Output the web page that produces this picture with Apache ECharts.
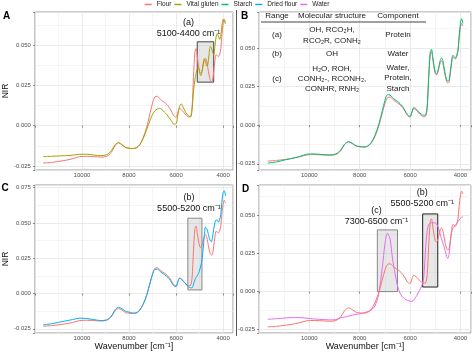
<!DOCTYPE html>
<html><head><meta charset="utf-8">
<script src="https://cdn.jsdelivr.net/npm/echarts@6/dist/echarts.min.js"></script>
<style>html,body{margin:0;padding:0;background:#fff}#c{width:474px;height:352px}</style>
</head><body><div id="c"></div>
<script>
// ---- data ----
const wavenumber = [11650, 11300, 11000, 10700, 10400, 10100, 9800, 9500, 9200, 8950,
  8750, 8600, 8450, 8300, 8150, 8000, 7850, 7700, 7550, 7400,
  7250, 7100, 7000, 6900, 6800, 6700, 6600, 6500, 6400, 6300,
  6200, 6100, 6000, 5920, 5850, 5780, 5700, 5620, 5540, 5460,
  5380, 5320, 5260, 5200, 5150, 5100, 5050, 5000, 4950, 4900,
  4850, 4800, 4750, 4700, 4650, 4600, 4550, 4500, 4450, 4400,
  4350, 4300, 4250, 4200, 4150, 4100, 4050, 4000, 3950, 3900];

const flour = [-0.0232, -0.0228, -0.0222, -0.0215, -0.0205, -0.0192, -0.0190, -0.0192, -0.0195, -0.0190,
  -0.0165, -0.0125, -0.0107, -0.0118, -0.0135, -0.0140, -0.0142, -0.0138, -0.0118, -0.0075,
  -0.0010, 0.0080, 0.0140, 0.0178, 0.0182, 0.0170, 0.0155, 0.0145, 0.0132, 0.0115,
  0.0090, 0.0062, 0.0052, 0.0085, 0.0108, 0.0100, 0.0088, 0.0072, 0.0062, 0.0055,
  0.0058, 0.0110, 0.0300, 0.0455, 0.0478, 0.0430, 0.0375, 0.0335, 0.0325, 0.0340,
  0.0372, 0.0405, 0.0418, 0.0402, 0.0360, 0.0315, 0.0285, 0.0272, 0.0280, 0.0335,
  0.0400, 0.0440, 0.0435, 0.0428, 0.0442, 0.0475, 0.0565, 0.0632, 0.0660, 0.0642];

const vitalGluten = [-0.0192, -0.0190, -0.0188, -0.0186, -0.0183, -0.0178, -0.0177, -0.0182, -0.0186, -0.0180,
  -0.0155, -0.0120, -0.0105, -0.0118, -0.0135, -0.0140, -0.0142, -0.0138, -0.0120, -0.0080,
  -0.0025, 0.0035, 0.0070, 0.0092, 0.0103, 0.0108, 0.0100, 0.0085, 0.0070, 0.0050,
  0.0030, 0.0010, 0.0012, 0.0070, 0.0120, 0.0135, 0.0115, 0.0090, 0.0072, 0.0060,
  0.0055, 0.0100, 0.0210, 0.0285, 0.0325, 0.0355, 0.0360, 0.0330, 0.0310, 0.0330,
  0.0385, 0.0415, 0.0400, 0.0370, 0.0380, 0.0440, 0.0490, 0.0485, 0.0455, 0.0440,
  0.0490, 0.0550, 0.0570, 0.0555, 0.0535, 0.0555, 0.0620, 0.0660, 0.0650, 0.0630];

const starch = [-0.0245, -0.0238, -0.0226, -0.0215, -0.0203, -0.0188, -0.0186, -0.0190, -0.0192, -0.0186,
  -0.0160, -0.0122, -0.0108, -0.0116, -0.0133, -0.0138, -0.0140, -0.0136, -0.0114, -0.0068,
  0.0002, 0.0095, 0.0160, 0.0197, 0.0195, 0.0180, 0.0165, 0.0155, 0.0140, 0.0122,
  0.0095, 0.0068, 0.0056, 0.0090, 0.0115, 0.0108, 0.0095, 0.0080, 0.0070, 0.0064,
  0.0068, 0.0125, 0.0320, 0.0470, 0.0492, 0.0445, 0.0385, 0.0345, 0.0333, 0.0348,
  0.0385, 0.0420, 0.0435, 0.0420, 0.0375, 0.0330, 0.0298, 0.0285, 0.0295, 0.0350,
  0.0415, 0.0452, 0.0445, 0.0435, 0.0452, 0.0485, 0.0580, 0.0660, 0.0690, 0.0660];

const driedFlour = [-0.0222, -0.0215, -0.0205, -0.0195, -0.0185, -0.0175, -0.0178, -0.0185, -0.0192, -0.0187,
  -0.0160, -0.0118, -0.0098, -0.0108, -0.0125, -0.0132, -0.0138, -0.0138, -0.0120, -0.0078,
  -0.0015, 0.0075, 0.0135, 0.0170, 0.0172, 0.0160, 0.0145, 0.0135, 0.0122, 0.0105,
  0.0080, 0.0055, 0.0048, 0.0085, 0.0108, 0.0105, 0.0090, 0.0075, 0.0058, 0.0045,
  0.0040, 0.0040, 0.0065, 0.0095, 0.0115, 0.0125, 0.0140, 0.0165, 0.0195, 0.0240,
  0.0310, 0.0410, 0.0470, 0.0460, 0.0435, 0.0400, 0.0375, 0.0365, 0.0400, 0.0455,
  0.0500, 0.0520, 0.0520, 0.0505, 0.0520, 0.0560, 0.0650, 0.0715, 0.0728, 0.0690];

const water = [-0.0182, -0.0178, -0.0174, -0.0171, -0.0171, -0.0175, -0.0180, -0.0183, -0.0186, -0.0184,
  -0.0172, -0.0167, -0.0162, -0.0155, -0.0150, -0.0146, -0.0140, -0.0132, -0.0122, -0.0095,
  -0.0020, 0.0160, 0.0310, 0.0383, 0.0350, 0.0220, 0.0120, 0.0040, -0.0010, -0.0035,
  -0.0050, -0.0058, -0.0063, -0.0064, -0.0055, -0.0038, -0.0015, 0.0010, 0.0035, 0.0090,
  0.0290, 0.0400, 0.0440, 0.0450, 0.0452, 0.0452, 0.0452, 0.0450, 0.0445, 0.0430,
  0.0405, 0.0375, 0.0345, 0.0320, 0.0295, 0.0265, 0.0232, 0.0218, 0.0245, 0.0330,
  0.0390, 0.0415, 0.0425, 0.0440, 0.0446, 0.0460, 0.0470, 0.0480, 0.0490, 0.0488];

const xTickLabels = [10000, 8000, 6000, 4000];
const yTickLabels = [-0.025, 0, 0.025, 0.05, 0.075];
const legendNames = ['Flour', 'Vital gluten', 'Starch', 'Dried flour', 'Water'];

// annotation boxes: [wavenumber from, wavenumber to, NIR low, NIR high]
const boxA = [5100, 4400, 0.027, 0.052];
const boxC = [5500, 4900, 0.0025, 0.0533];
const boxDb = [5500, 4900, 0.003, 0.051];
const boxDc = [7300, 6500, 0.0, 0.0405];
const boxTextA = '(a)\n5100-4400 cm\u207B\u00B9';
const boxTextB = '(b)\n5500-5200 cm\u207B\u00B9';
const boxTextC = '(c)\n7300-6500 cm\u207B\u00B9';

// ---- chart ----
const FONT = "'Liberation Sans', Arial, sans-serif";
const COLORS = {'Flour': '#F8766D', 'Vital gluten': '#A3A500', 'Starch': '#00BF7D', 'Dried flour': '#00B0F6', 'Water': '#E76BF3'};
const DATA = {'Flour': flour, 'Vital gluten': vitalGluten, 'Starch': starch, 'Dried flour': driedFlour, 'Water': water};
const pairs = ys => wavenumber.map((w, i) => [w, ys[i]]);
const isYLabel = v => yTickLabels.some(t => Math.abs(t - v) < 1e-9);
const isXLabel = v => xTickLabels.some(t => Math.abs(t - v) < 1e-6);

const panels = [
  {grid: {left: 32, top: 12, width: 201, height: 158}, y: [-0.0275, 0.0705], yName: 'NIR', xName: '',
   names: ['Flour', 'Vital gluten'],
   boxes: [{r: boxA, t: boxTextA, dx: -17, d: 2, border: '#444'}]},
  {grid: {left: 259, top: 12, width: 213, height: 158}, y: [-0.029, 0.0733], yName: '', xName: '',
   names: ['Flour', 'Starch'], boxes: []},
  {grid: {left: 32, top: 185, width: 201, height: 148}, y: [-0.028, 0.0768], yName: 'NIR', xName: 'Wavenumber [cm\u207B\u00B9]',
   names: ['Flour', 'Dried flour'],
   boxes: [{r: boxC, t: boxTextB, dx: -6, d: 3, border: '#888'}]},
  {grid: {left: 259, top: 185, width: 213, height: 148}, y: [-0.0272, 0.0700], yName: '', xName: 'Wavenumber [cm\u207B\u00B9]',
   names: ['Water', 'Flour'],
   boxes: [{r: boxDb, t: boxTextB, dx: -8, d: 4, border: '#222'}, {r: boxDc, t: boxTextC, dx: -11, d: 2, border: '#888'}]}
];

const grids = [], xAxes = [], yAxes = [], series = [];
panels.forEach((p, i) => {
  grids.push(Object.assign({show: true, borderColor: '#9a9a9a', borderWidth: 1, backgroundColor: '#fff'}, p.grid));
  xAxes.push({
    gridIndex: i, type: 'value', inverse: true, min: 3580, max: 12000, minInterval: 2000, maxInterval: 2000,
    axisLine: {show: false},
    axisTick: {show: true, length: 2, lineStyle: {color: '#444', width: 0.6}},
    axisLabel: {fontSize: 6, color: '#4d4d4d', margin: 2, fontFamily: FONT, formatter: v => isXLabel(v) ? String(v) : ''},
    splitLine: {show: true, lineStyle: {color: '#e4e4e4', width: 0.8}},
    minorTick: {show: false, splitNumber: 2},
    minorSplitLine: {show: true, lineStyle: {color: '#efefef', width: 0.6}},
    name: p.xName, nameLocation: 'middle', nameGap: 9,
    nameTextStyle: {fontSize: 9, color: '#111', fontFamily: FONT}
  });
  yAxes.push({
    gridIndex: i, type: 'value', min: p.y[0], max: p.y[1], minInterval: 0.025, maxInterval: 0.025,
    axisLine: {show: false},
    axisTick: {show: true, length: 2, lineStyle: {color: '#444', width: 0.6}},
    axisLabel: {fontSize: 6, color: '#4d4d4d', margin: 4, fontFamily: FONT, formatter: v => isYLabel(v) ? v.toFixed(3) : ''},
    splitLine: {show: true, lineStyle: {color: '#e4e4e4', width: 0.8}},
    minorTick: {show: false, splitNumber: 2},
    minorSplitLine: {show: true, lineStyle: {color: '#efefef', width: 0.6}},
    name: p.yName, nameLocation: 'middle', nameGap: 17,
    nameTextStyle: {fontSize: 8.5, color: '#111', fontFamily: FONT}
  });
  p.names.forEach((n, k) => {
    const s = {
      type: 'line', name: n, xAxisIndex: i, yAxisIndex: i, data: pairs(DATA[n]),
      showSymbol: false, symbol: 'none', smooth: 0.3, silent: true,
      lineStyle: {width: 1, color: COLORS[n]}, itemStyle: {color: COLORS[n]}
    };
    if (k === 0 && p.boxes.length) {
      s.markArea = {
        silent: true,
        data: p.boxes.map(b => [
          {xAxis: b.r[0], yAxis: b.r[3],
           itemStyle: {color: 'rgba(170,170,170,0.28)', borderColor: b.border, borderWidth: 1},
           label: {show: true, position: 'top', formatter: b.t, offset: [b.dx, 0], distance: b.d,
                   fontSize: 9, lineHeight: 11.5, color: '#111', fontFamily: FONT, align: 'center'}},
          {xAxis: b.r[1], yAxis: b.r[2]}
        ])
      };
    }
    series.push(s);
  });
});

// table in panel B and panel letters (text annotations)
const T = (text, x, y, extra) => ({type: 'text', x: x, y: y, silent: true, z: 50,
  style: Object.assign({text: text, align: 'center', verticalAlign: 'middle', fontSize: 8, fontFamily: FONT, fill: '#1a1a1a'}, extra || {})});
const graphic = [
  {type: 'line', silent: true, z: 50, shape: {x1: 236.5, y1: 10, x2: 236.5, y2: 336}, style: {stroke: '#555', lineWidth: 1}},
  T('A', 6.5, 16.5, {fontSize: 10, fontWeight: 'bold', fill: '#000'}),
  T('B', 244.5, 16.5, {fontSize: 10, fontWeight: 'bold', fill: '#000'}),
  T('C', 5, 188.5, {fontSize: 10, fontWeight: 'bold', fill: '#000'}),
  T('D', 245.5, 189, {fontSize: 10, fontWeight: 'bold', fill: '#000'}),
  T('Range', 277, 16), T('Molecular structure', 332, 16), T('Component', 398, 16),
  {type: 'line', silent: true, z: 50, shape: {x1: 261, y1: 22, x2: 426, y2: 22}, style: {stroke: '#444', lineWidth: 1}},
  T('(a)', 277, 35), T('OH, RCO\u2082H,', 332, 29.5), T('RCO\u2082R, CONH\u2082', 332, 40.5), T('Protein', 398, 34.5),
  T('(b)', 277, 53.5), T('OH', 332, 53.5), T('Water', 398, 53.5),
  T('(c)', 277, 78.5), T('H\u2082O, ROH,', 332, 68.5), T('CONH\u2082-, RCONH\u2082,', 332, 79), T('CONHR, RNH\u2082', 332, 89),
  T('Water,', 398, 67.5), T('Protein,', 398, 78), T('Starch', 398, 88.5)
];

const chart = echarts.init(document.getElementById('c'), null, {renderer: 'canvas'});
chart.setOption({
  animation: false,
  backgroundColor: '#fff',
  textStyle: {fontFamily: FONT},
  legend: {data: legendNames, top: 0, left: 'center', icon: 'rect', itemWidth: 7, itemHeight: 1.5, itemGap: 3,
           padding: [1, 0, 0, 0], textStyle: {fontSize: 6.5, color: '#222', fontFamily: FONT}},
  grid: grids, xAxis: xAxes, yAxis: yAxes, series: series, graphic: graphic
});
</script></body></html>
